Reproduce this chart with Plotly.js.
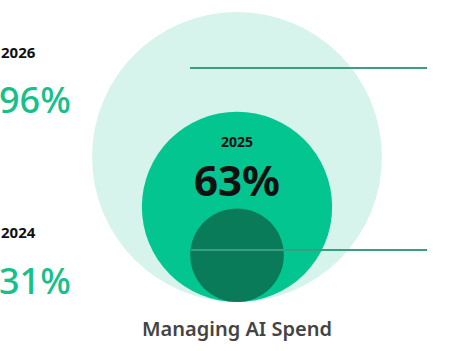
<!DOCTYPE html>
<html>
<head>
<meta charset="utf-8">
<script src="https://cdn.plot.ly/plotly-3.0.1.min.js"></script>
<style>html,body{margin:0;padding:0;background:#fff;}#chart{width:474px;height:351px;}</style>
</head>
<body>
<div id="chart"></div>
<script>
const years = ['2026', '2025', '2024'];
const values = [96, 63, 31];
const labels = ['96%', '63%', '31%'];
const chartTitle = 'Managing AI Spend';

const fills = ['#d6f4ec', '#03c590', '#0a7b58'];
const FONT = '"Noto Sans", "Open Sans", sans-serif';
const W = 474, H = 351;
const pxPerUnit = 3.02, centerPx = 237, bottomPx = 302;

const shapes = values.map((v, i) => ({
  type: 'circle', xref: 'x', yref: 'y',
  x0: -v / 2, x1: v / 2, y0: 0, y1: v,
  fillcolor: fills[i], line: {width: 0}, layer: 'below'
}));

function py(px) { return 1 - px / H; }
function pxx(px) { return px / W; }

shapes.push({type: 'line', xref: 'paper', yref: 'paper', x0: pxx(190), x1: pxx(427), y0: py(68), y1: py(68), line: {color: '#3a9e82', width: 2}});
shapes.push({type: 'line', xref: 'paper', yref: 'paper', x0: pxx(191), x1: pxx(427), y0: py(250), y1: py(250), line: {color: '#3a9e82', width: 2}});

const annotations = [
  {text: '<b>' + years[0] + '</b>', x: 0, y: py(52), xshift: -1, font: {size: 15, color: '#111'}},
  {text: labels[0], x: 0, y: py(99), xshift: -3, font: {size: 36, color: '#17bf8a', weight: 500}},
  {text: '<b>' + years[2] + '</b>', x: 0, y: py(232), xshift: -1, font: {size: 15, color: '#111'}},
  {text: labels[2], x: 0, y: py(280), xshift: -3, font: {size: 36, color: '#17bf8a', weight: 500}},
].map(a => Object.assign({xref: 'paper', yref: 'paper', xanchor: 'left', yanchor: 'middle', showarrow: false}, a, {font: Object.assign({family: FONT}, a.font)}));

annotations.push({xref: 'x', yref: 'paper', x: 0, y: py(141), text: '<b>' + years[1] + '</b>', showarrow: false, xanchor: 'center', yanchor: 'middle', font: {family: FONT, size: 14, color: '#111'}});
annotations.push({xref: 'x', yref: 'paper', x: 0, y: py(180), text: '<b>' + labels[1] + '</b>', showarrow: false, xanchor: 'center', yanchor: 'middle', font: {family: FONT, size: 42, color: '#111'}});
annotations.push({xref: 'x', yref: 'paper', x: 0, y: py(328), text: chartTitle, showarrow: false, xanchor: 'center', yanchor: 'middle', font: {family: FONT, size: 20, color: '#444', weight: 600}});

const layout = {
  width: W, height: H,
  margin: {l: 0, r: 0, t: 0, b: 0},
  paper_bgcolor: '#fff', plot_bgcolor: '#fff',
  showlegend: false,
  xaxis: {range: [-centerPx / pxPerUnit, (W - centerPx) / pxPerUnit], visible: false, fixedrange: true},
  yaxis: {range: [-(H - bottomPx) / pxPerUnit, bottomPx / pxPerUnit], visible: false, fixedrange: true},
  shapes: shapes,
  annotations: annotations
};

const data = [{x: values.map(() => 0), y: values, type: 'scatter', mode: 'markers', marker: {opacity: 0}, hoverinfo: 'skip'}];

Plotly.newPlot('chart', data, layout, {staticPlot: true, displayModeBar: false});
</script>
</body>
</html>
